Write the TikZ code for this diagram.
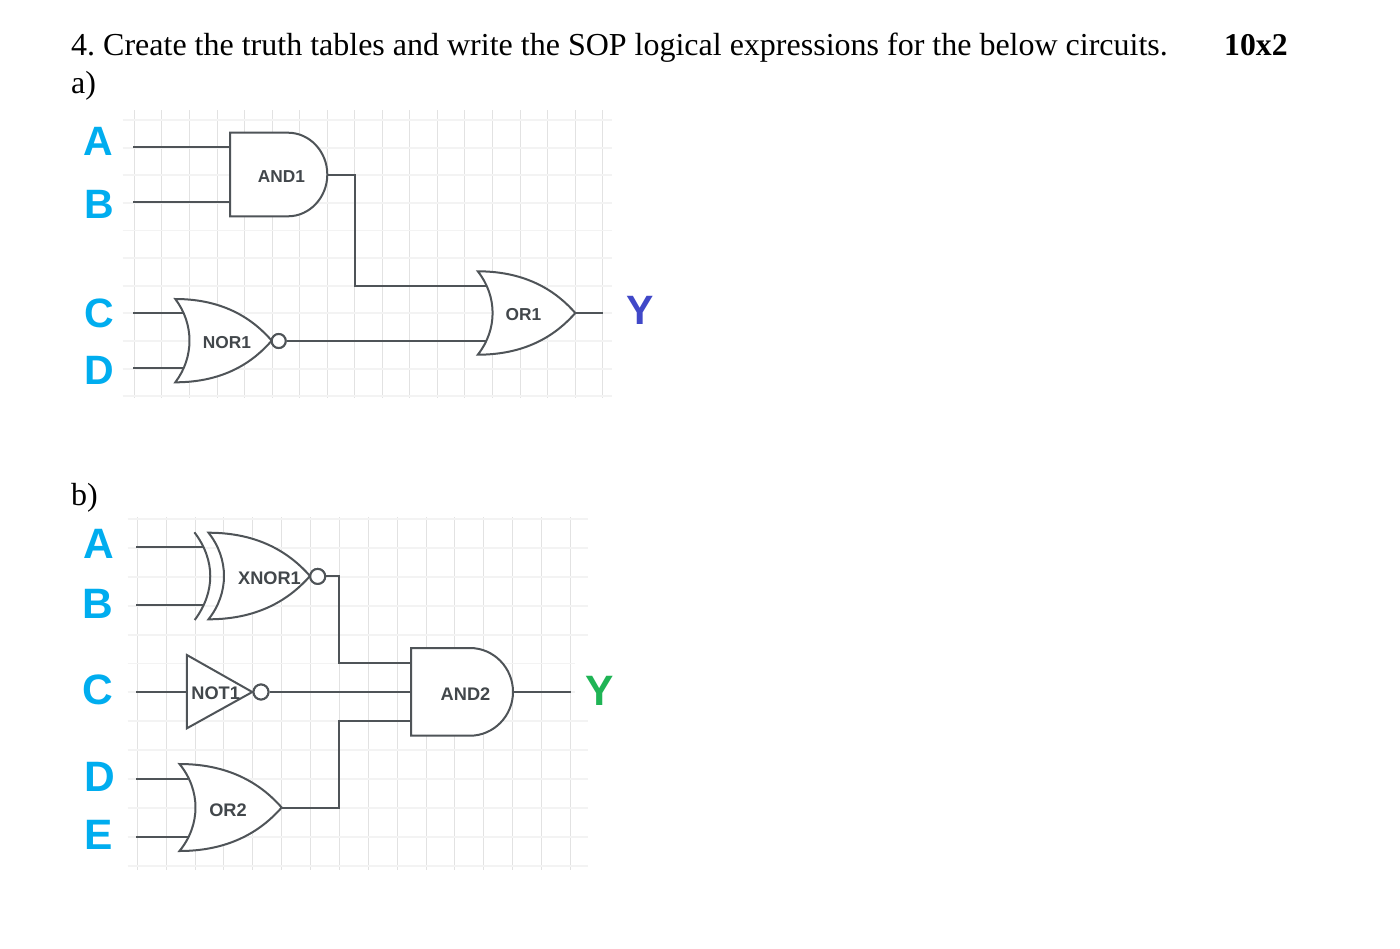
\documentclass[tikz,border=0pt]{standalone}
\usepackage{fontspec}
\setmainfont{Liberation Serif}
\newfontfamily\labfont{Liberation Sans}
\definecolor{wirec}{HTML}{4F5458}
\definecolor{gridv}{HTML}{E2E2E2}
\definecolor{gridh}{HTML}{F3F3F3}
\definecolor{labc}{HTML}{42474B}
\definecolor{cyanl}{HTML}{00ADEF}
\definecolor{bluey}{HTML}{4048C8}
\definecolor{greeny}{HTML}{1FB455}
\tikzset{
  x=1pt,y=-1pt,
  wire/.style={draw=wirec,line width=2pt,line join=miter},
  gatebody/.style={draw=wirec,line width=2pt,fill=white,line join=miter},
  bubble/.style={circle,draw=wirec,line width=2pt,fill=white,minimum size=14pt,inner sep=0pt},
  gatelab/.style={inner sep=0pt,text=labc,font=\labfont\bfseries\fontsize{17.3}{20}\selectfont},
  gatelabb/.style={inner sep=0pt,text=labc,font=\labfont\bfseries\fontsize{18.2}{20}\selectfont},
  pinlab/.style={inner sep=0pt,font=\labfont\bfseries\fontsize{41}{44}\selectfont},
  pinlabb/.style={inner sep=0pt,font=\labfont\bfseries\fontsize{42.5}{46}\selectfont},
  head/.style={inner sep=0pt,anchor=base west,font=\fontsize{32}{36}\selectfont},
  vgrid/.style={draw=gridv,line width=0.9pt},
  hgrid/.style={draw=gridh,line width=1.9pt}
}
% #1 left x, #2 top y, #3 bottom y, #4 tip x, #5 back-curve depth
\newcommand{\orbody}[5]{%
  \pgfmathsetmacro{\gatew}{#4-#1}\pgfmathsetmacro{\gatecy}{(#2+#3)/2}\pgfmathsetmacro{\gateh}{#3-#2}%
  \path[gatebody] (#1,#2)
    .. controls ({#1+0.52*\gatew},#2) and ({#1+0.82*\gatew},{\gatecy-0.24*\gateh}) .. (#4,\gatecy)
    .. controls ({#1+0.82*\gatew},{\gatecy+0.24*\gateh}) and ({#1+0.52*\gatew},#3) .. (#1,#3)
    .. controls ({#1+1.333*#5},{\gatecy+0.2*\gateh}) and ({#1+1.333*#5},{\gatecy-0.2*\gateh}) .. cycle;}
% #1 left x, #2 top y, #3 bottom y, #4 straight end x, #5 right x
\newcommand{\andbody}[5]{%
  \pgfmathsetmacro{\gatecy}{(#2+#3)/2}\pgfmathsetmacro{\gateh}{#3-#2}%
  \path[gatebody] (#1,#2) -- (#4,#2)
    .. controls ({#4+0.55*(#5-#4)},#2) and (#5,{\gatecy-0.275*\gateh}) .. (#5,\gatecy)
    .. controls (#5,{\gatecy+0.275*\gateh}) and ({#4+0.55*(#5-#4)},#3) .. (#4,#3)
    -- (#1,#3) -- cycle;}
\begin{document}
\begin{tikzpicture}
\useasboundingbox (0,0) rectangle (1400,948);
\fill[white] (0,0) rectangle (1400,948);
% header
\node[head] (title) at (71,55) {\frenchspacing 4. Create the truth tables and write the SOP logical expressions for the below circuits.};
\node[head,font=\bfseries\fontsize{31.7}{36}\selectfont] (marks) at (1224,55) {10x2};
\node[head] (parta) at (71,93) {a)};
\node[head] (partb) at (71,505) {b)};
% grid a
\foreach \k in {0,...,17} \draw[vgrid] ({134.3+27.55*\k},110) -- ({134.3+27.55*\k},398);
\foreach \k in {0,...,10} \draw[hgrid] (122.7,{120+27.63*\k}) -- (611.7,{120+27.63*\k});
% grid b
\foreach \k in {0,...,15} \draw[vgrid] ({137.3+28.87*\k},517.3) -- ({137.3+28.87*\k},870);
\foreach \k in {0,...,12} \draw[hgrid] (127.7,{519+28.9*\k}) -- (587.7,{519+28.9*\k});
\fill[white] (575,655) rectangle (590,717);
% ---- circuit a: pins
\coordinate (inA) at (133,147);
\coordinate (inB) at (133,202);
\coordinate (inC) at (133,312.7);
\coordinate (inD) at (133,368.3);
\coordinate (and1a) at (232,147);
\coordinate (and1b) at (232,202);
\coordinate (and1o) at (327,174.5);
\coordinate (nor1a) at (183,312.7);
\coordinate (nor1b) at (183,368.3);
\coordinate (or1a) at (487,285.5);
\coordinate (or1b) at (487,341);
\coordinate (or1o) at (575.3,313);
\coordinate (outYa) at (603.3,313);
\coordinate (viaA) at (354.5,285.5);
% ---- circuit b: pins
\coordinate (inA2) at (136,547.3);
\coordinate (inB2) at (136,605.3);
\coordinate (inC2) at (136,692);
\coordinate (inD2) at (136,779);
\coordinate (inE2) at (136,836.7);
\coordinate (xn1a) at (203,547.3);
\coordinate (xn1b) at (203,605.3);
\coordinate (not1i) at (188,692);
\coordinate (or2a) at (188,779);
\coordinate (or2b) at (188,836.7);
\coordinate (or2o) at (281.7,807.7);
\coordinate (and2a) at (412,663.3);
\coordinate (and2b) at (412,692);
\coordinate (and2c) at (412,721);
\coordinate (and2o) at (513,692);
\coordinate (outYb) at (571,692);
\coordinate (viaB) at (339.3,663.3);
\coordinate (viaC) at (339.3,721);
% bubbles first named so wires can reach them
\node[bubble] (nor1n) at (278.7,341) {};
\node[bubble,minimum size=15pt] (xn1n) at (317.7,576.4) {};
\node[bubble,minimum size=15pt] (not1n) at (261,692) {};
% wires a
\draw[wire] (inA) -- (and1a);
\draw[wire] (inB) -- (and1b);
\draw[wire] (inC) -- (nor1a);
\draw[wire] (inD) -- (nor1b);
\draw[wire] (and1o) -- (viaA |- and1o) -- (viaA) -- (or1a);
\draw[wire] (nor1n) -- (or1b);
\draw[wire] (or1o) -- (outYa);
% wires b
\draw[wire] (inA2) -- (xn1a);
\draw[wire] (inB2) -- (xn1b);
\draw[wire] (inC2) -- (not1i);
\draw[wire] (inD2) -- (or2a);
\draw[wire] (inE2) -- (or2b);
\draw[wire] (xn1n) -- (viaB |- xn1n) -- (viaB) -- (and2a);
\draw[wire] (not1n) -- (and2b);
\draw[wire] (or2o) -- (viaC |- or2o) -- (viaC) -- (and2c);
\draw[wire] (and2o) -- (outYb);
% gates a
\andbody{230}{132.7}{216.3}{288}{327.3}
\orbody{175.3}{299}{382.3}{271.7}{14.2}
\orbody{477.8}{271.3}{354.7}{575.3}{14.8}
% gates b
\path[wire] (194.4,532.3) .. controls (215.5,560) and (215.5,592) .. (194.7,620);
\orbody{208.5}{532.7}{619.3}{310}{15.5}
\path[gatebody] (186.9,655) -- (252.3,692) -- (186.9,728.3) -- cycle;
\orbody{179.5}{764}{851}{281.7}{16}
\andbody{411}{648}{735.7}{470}{513}
% bubbles over gate tips
\node[bubble] (nor1nb) at (nor1n) {};
\node[bubble,minimum size=15pt] (xn1nb) at (xn1n) {};
\node[bubble,minimum size=15pt] (not1nb) at (not1n) {};
% gate labels
\node[gatelab] (and1) at (281.5,176.5) {AND1};
\node[gatelab] (nor1) at (227,342.5) {NOR1};
\node[gatelab] (or1) at (523.5,315) {OR1};
\node[gatelabb] (xnor1) at (269.5,578.5) {XNOR1};
\node[gatelabb] (not1) at (215.7,693.5) {NOT1};
\node[gatelabb] (or2) at (228,810) {OR2};
\node[gatelabb] (and2) at (465.5,694) {AND2};
% pin labels
\node[pinlab,text=cyanl] (lA) at (98,141) {A};
\node[pinlab,text=cyanl] (lB) at (99,204.5) {B};
\node[pinlab,text=cyanl] (lC) at (99,313.5) {C};
\node[pinlab,text=cyanl] (lD) at (99,370) {D};
\node[pinlab,text=bluey] (lY) at (640.5,310) {Y};
\node[pinlabb,text=cyanl] (lA2) at (98.5,543.5) {A};
\node[pinlabb,text=cyanl] (lB2) at (98,603.5) {B};
\node[pinlabb,text=cyanl] (lC2) at (97.5,690) {C};
\node[pinlabb,text=cyanl] (lD2) at (100,777) {D};
\node[pinlabb,text=cyanl] (lE2) at (98.5,835) {E};
\node[pinlabb,text=greeny] (lY2) at (599.5,691) {Y};
\end{tikzpicture}
\end{document}
